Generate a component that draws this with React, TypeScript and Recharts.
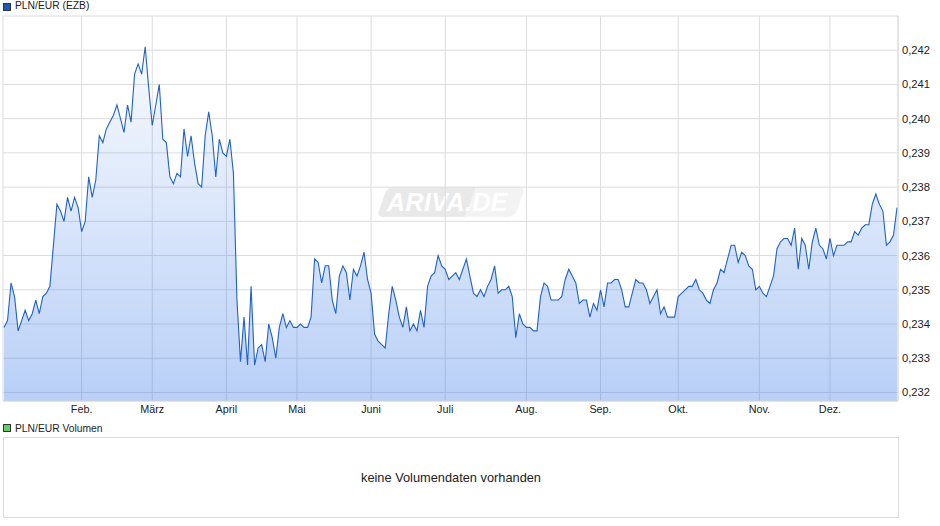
import React from 'react';
import {
  Area,
  AreaChart,
  CartesianGrid,
  XAxis,
  YAxis,
} from 'recharts';

// Tageskurse, in 1/10000 EUR
const kurse = [
  2339, 2341, 2352, 2348, 2338, 2341, 2344, 2341, 2343, 2347,
  2343, 2348, 2349, 2351, 2363, 2375, 2373, 2370, 2377, 2373,
  2377, 2374, 2367, 2370, 2383, 2377, 2382, 2395, 2393, 2397,
  2399, 2401, 2404, 2400, 2396, 2404, 2399, 2413, 2416, 2413,
  2421, 2409, 2398, 2404, 2410, 2394, 2393, 2383, 2381, 2384,
  2383, 2397, 2389, 2395, 2387, 2381, 2380, 2395, 2402, 2395,
  2383, 2394, 2390, 2389, 2394, 2384, 2347, 2329, 2342, 2328,
  2351, 2328, 2333, 2334, 2329, 2340, 2336, 2330, 2339, 2343,
  2339, 2341, 2339, 2339, 2340, 2339, 2339, 2342, 2359, 2358,
  2352, 2357, 2357, 2347, 2343, 2354, 2357, 2355, 2347, 2356,
  2354, 2357, 2361, 2353, 2349, 2337, 2335, 2334, 2333, 2343,
  2351, 2347, 2342, 2339, 2345, 2338, 2340, 2338, 2344, 2339,
  2351, 2354, 2355, 2360, 2357, 2356, 2353, 2354, 2355, 2353,
  2356, 2359, 2354, 2349, 2348, 2350, 2348, 2351, 2353, 2357,
  2349, 2350, 2350, 2351, 2348, 2336, 2343, 2340, 2339, 2339,
  2338, 2338, 2348, 2352, 2351, 2347, 2347, 2347, 2348, 2353,
  2356, 2354, 2352, 2346, 2347, 2347, 2342, 2346, 2344, 2350,
  2345, 2352, 2352, 2353, 2353, 2350, 2345, 2345, 2349, 2353,
  2352, 2352, 2350, 2346, 2348, 2350, 2343, 2345, 2342, 2342,
  2342, 2348, 2349, 2350, 2351, 2351, 2353, 2350, 2349, 2347,
  2346, 2350, 2352, 2356, 2355, 2359, 2363, 2363, 2358, 2361,
  2360, 2357, 2356, 2350, 2351, 2349, 2348, 2351, 2354, 2362,
  2364, 2365, 2365, 2363, 2368, 2356, 2365, 2363, 2356, 2364,
  2368, 2363, 2362, 2359, 2365, 2360, 2363, 2363, 2363, 2364,
  2364, 2367, 2366, 2368, 2369, 2369, 2375, 2378, 2375, 2373,
  2363, 2364, 2366, 2374,
];

const monatsIndex = [22, 42, 63, 83, 104, 125, 148, 169, 191, 214, 234];
const monate = ['Feb.', 'März', 'April', 'Mai', 'Juni', 'Juli', 'Aug.', 'Sep.', 'Okt.', 'Nov.', 'Dez.'];
const kursTicks = [0.232, 0.233, 0.234, 0.235, 0.236, 0.237, 0.238, 0.239, 0.24, 0.241, 0.242];

const daten = kurse.map((k, i) => ({ i, kurs: k / 10000 }));

const schrift = '"Liberation Sans", Arial, sans-serif';
const gitter = '#dcdcdc';

function Kaestchen({ top, farbe }: { top: number; farbe: string }) {
  return (
    <div
      style={{
        position: 'absolute',
        left: 3,
        top,
        width: 6,
        height: 6,
        background: farbe,
        border: '1px solid #333',
      }}
    />
  );
}

function Beschriftung({ top, text }: { top: number; text: string }) {
  return (
    <div style={{ position: 'absolute', left: 15, top, fontSize: 10.3, lineHeight: '14px', color: '#222' }}>{text}</div>
  );
}

function Wasserzeichen() {
  return (
    <div style={{ position: 'absolute', left: 382, top: 187, width: 138, height: 30 }}>
      <div
        style={{
          position: 'absolute',
          inset: 0,
          background: 'linear-gradient(90deg, #e9e9e9 0%, #e9e9e9 64%, #f3f3f3 64%, #f3f3f3 100%)',
          borderRadius: 6,
          transform: 'skewX(-20deg)',
        }}
      />
      <div
        style={{
          position: 'absolute',
          left: 5,
          top: 1,
          whiteSpace: 'nowrap',
          fontSize: 25,
          lineHeight: '28px',
          fontWeight: 'bold',
          fontStyle: 'italic',
          letterSpacing: 0.4,
          color: '#fff',
        }}
      >
        ARIVA.DE
      </div>
    </div>
  );
}

export default function App() {
  return (
    <div style={{ position: 'absolute', left: 0, top: 0, width: 940, height: 526, background: '#fff', fontFamily: schrift, overflow: 'hidden' }}>
      <Kaestchen top={3} farbe="#1c58b5" />
      <Beschriftung top={-1} text="PLN/EUR (EZB)" />
      <Wasserzeichen />

      <div style={{ position: 'absolute', left: 0, top: 0 }}>
        <AreaChart
          width={940}
          height={425}
          data={daten}
          margin={{ top: 16, right: 0, bottom: 0, left: 3 }}
        >
          <defs>
            <linearGradient id="kursVerlauf" x1="0" y1="0" x2="0" y2="1">
              <stop offset="0%" stopColor="#286ee6" stopOpacity={0.03} />
              <stop offset="100%" stopColor="#286ee6" stopOpacity={0.33} />
            </linearGradient>
          </defs>
          <CartesianGrid stroke={gitter} strokeWidth={1} />
          <XAxis
            dataKey="i"
            type="number"
            domain={[-0.28, 253.28]}
            allowDataOverflow
            ticks={monatsIndex}
            interval={0}
            tickFormatter={(v: number) => monate[monatsIndex.indexOf(v)]}
            tick={{ fontSize: 10.8, fill: '#222', fontFamily: schrift }}
            tickLine={false}
            tickSize={0}
            axisLine={{ stroke: gitter }}
            tickMargin={4}
            height={24}
          />
          <YAxis
            orientation="right"
            type="number"
            domain={[0.23175, 0.243]}
            allowDataOverflow
            ticks={kursTicks}
            interval={0}
            tickFormatter={(v: number) => v.toFixed(3).replace('.', ',')}
            tick={{ fontSize: 11.2, fill: '#222', fontFamily: schrift, textAnchor: 'start' }}
            tickLine={false}
            tickSize={0}
            axisLine={{ stroke: gitter }}
            tickMargin={4}
            width={42}
          />
          <Area
            type="linear"
            dataKey="kurs"
            stroke="#2162c4"
            strokeWidth={1.1}
            fill="url(#kursVerlauf)"
            fillOpacity={1}
            dot={false}
            activeDot={false}
            isAnimationActive={false}
          />
        </AreaChart>
      </div>

      <Kaestchen top={424} farbe="#66cc66" />
      <Beschriftung top={422} text="PLN/EUR Volumen" />
      <div
        style={{
          position: 'absolute',
          left: 3,
          top: 437,
          width: 894,
          height: 79,
          border: `1px solid ${gitter}`,
          display: 'flex',
          alignItems: 'center',
          justifyContent: 'center',
          fontSize: 12.8,
          color: '#222',
        }}
      >
        keine Volumendaten vorhanden
      </div>
    </div>
  );
}
